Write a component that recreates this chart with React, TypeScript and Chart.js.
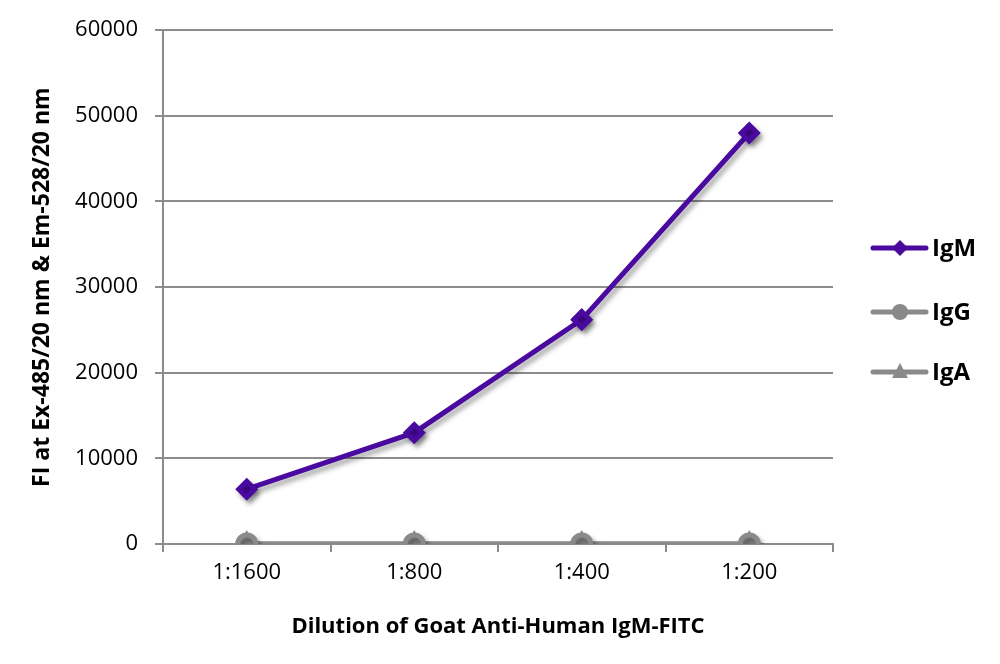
import { useEffect, useRef } from "react"
import { Chart, registerables } from "chart.js"

Chart.register(...registerables)

const dilutions = ["1:1600", "1:800", "1:400", "1:200"]
const igmValues = [6400, 13000, 26200, 48000]
const iggValues = [0, 0, 0, 0]
const igaValues = [0, 0, 0, 0]

const PURPLE = "#4a0aa0"
const GRAY = "#8a8a8a"
const AXIS_GRAY = "#8c8c8c"
const FONT = "'Open Sans', sans-serif"

// soft drop shadow under the lines, like the original office chart
const shadowPlugin = {
  id: "lineShadow",
  beforeDatasetsDraw(chart: Chart) {
    const ctx = chart.ctx
    ctx.save()
    ctx.shadowColor = "rgba(0,0,0,0.35)"
    ctx.shadowBlur = 5
    ctx.shadowOffsetX = 3
    ctx.shadowOffsetY = 4
  },
  afterDatasetsDraw(chart: Chart) {
    chart.ctx.restore()
  },
}

// legend with a line segment through the marker
const lineLegendPlugin = {
  id: "lineLegend",
  afterDraw(chart: Chart) {
    const ctx = chart.ctx
    const x0 = chart.chartArea.right + 40
    const rows = [248, 312, 372]
    chart.data.datasets.forEach((ds: any, i: number) => {
      const y = rows[i]
      ctx.save()
      ctx.strokeStyle = ds.borderColor
      ctx.lineWidth = 5
      ctx.lineCap = "round"
      ctx.beginPath()
      ctx.moveTo(x0, y)
      ctx.lineTo(x0 + 53, y)
      ctx.stroke()
      ctx.fillStyle = ds.pointBackgroundColor
      const cx = x0 + 27
      ctx.beginPath()
      if (ds.pointStyle === "rectRot") {
        ctx.moveTo(cx, y - 8)
        ctx.lineTo(cx + 8, y)
        ctx.lineTo(cx, y + 8)
        ctx.lineTo(cx - 8, y)
      } else if (ds.pointStyle === "circle") {
        ctx.arc(cx, y, 8, 0, Math.PI * 2)
      } else {
        ctx.moveTo(cx, y - 9)
        ctx.lineTo(cx + 8, y + 6)
        ctx.lineTo(cx - 8, y + 6)
      }
      ctx.closePath()
      ctx.fill()
      ctx.fillStyle = "#000"
      ctx.font = `bold 24px ${FONT}`
      ctx.textBaseline = "middle"
      ctx.fillText(ds.label, x0 + 59, y + 1)
      ctx.restore()
    })
  },
}

export default function App() {
  const chartRef = useRef<HTMLCanvasElement>(null)
  const chartInstance = useRef<Chart | null>(null)

  useEffect(() => {
    document.body.style.margin = "0"
    if (!chartRef.current) return
    if (chartInstance.current) chartInstance.current.destroy()
    const ctx = chartRef.current.getContext("2d")
    if (!ctx) return

    chartInstance.current = new Chart(ctx, {
      type: "line",
      data: {
        labels: dilutions,
        datasets: [
          {
            label: "IgM",
            data: igmValues,
            borderColor: PURPLE,
            backgroundColor: PURPLE,
            pointBackgroundColor: PURPLE,
            pointBorderColor: PURPLE,
            pointStyle: "rectRot",
            pointRadius: 8,
            borderWidth: 5,
          },
          {
            label: "IgG",
            data: iggValues,
            borderColor: GRAY,
            backgroundColor: GRAY,
            pointBackgroundColor: GRAY,
            pointBorderColor: GRAY,
            pointStyle: "circle",
            pointRadius: 9,
            borderWidth: 5,
          },
          {
            label: "IgA",
            data: igaValues,
            borderColor: GRAY,
            backgroundColor: GRAY,
            pointBackgroundColor: GRAY,
            pointBorderColor: GRAY,
            pointStyle: "triangle",
            pointRadius: 9,
            borderWidth: 5,
          },
        ],
      },
      options: {
        animation: false,
        responsive: false,
        layout: { padding: { left: 10, right: 167, top: 18, bottom: 0 } },
        plugins: {
          legend: { display: false },
          tooltip: { enabled: false },
        },
        scales: {
          x: {
            offset: true,
            afterFit: (scale: any) => {
              scale.height = 120
            },
            grid: {
              offset: true,
              drawOnChartArea: false,
              drawTicks: true,
              tickLength: 8,
              color: AXIS_GRAY,
              lineWidth: 2,
            },
            border: { color: AXIS_GRAY, width: 2 },
            ticks: { color: "#000", font: { family: FONT, size: 22 }, padding: 8 },
            title: {
              display: true,
              text: "Dilution of Goat Anti-Human IgM-FITC",
              color: "#000",
              font: { family: FONT, size: 22, weight: "bold" },
              padding: { top: 0, bottom: 24 },
            },
          },
          y: {
            min: 0,
            max: 60000,
            afterFit: (scale: any) => {
              scale.width = 153
            },
            ticks: {
              stepSize: 10000,
              color: "#000",
              font: { family: FONT, size: 22 },
              padding: 17,
              callback: (v: any) => String(v),
            },
            grid: { color: AXIS_GRAY, lineWidth: 2, tickLength: 8 },
            border: { color: AXIS_GRAY, width: 2 },
            title: {
              display: true,
              text: "FI at Ex-485/20 nm & Em-528/20 nm",
              color: "#000",
              font: { family: FONT, size: 23, weight: "bold" },
              padding: { top: 19, bottom: 0 },
            },
          },
        },
      },
      plugins: [shadowPlugin, lineLegendPlugin],
    })

    return () => {
      if (chartInstance.current) chartInstance.current.destroy()
    }
  }, [])

  return (
    <div style={{ width: 1000, height: 664 }}>
      <canvas ref={chartRef} width={1000} height={664}></canvas>
    </div>
  )
}
